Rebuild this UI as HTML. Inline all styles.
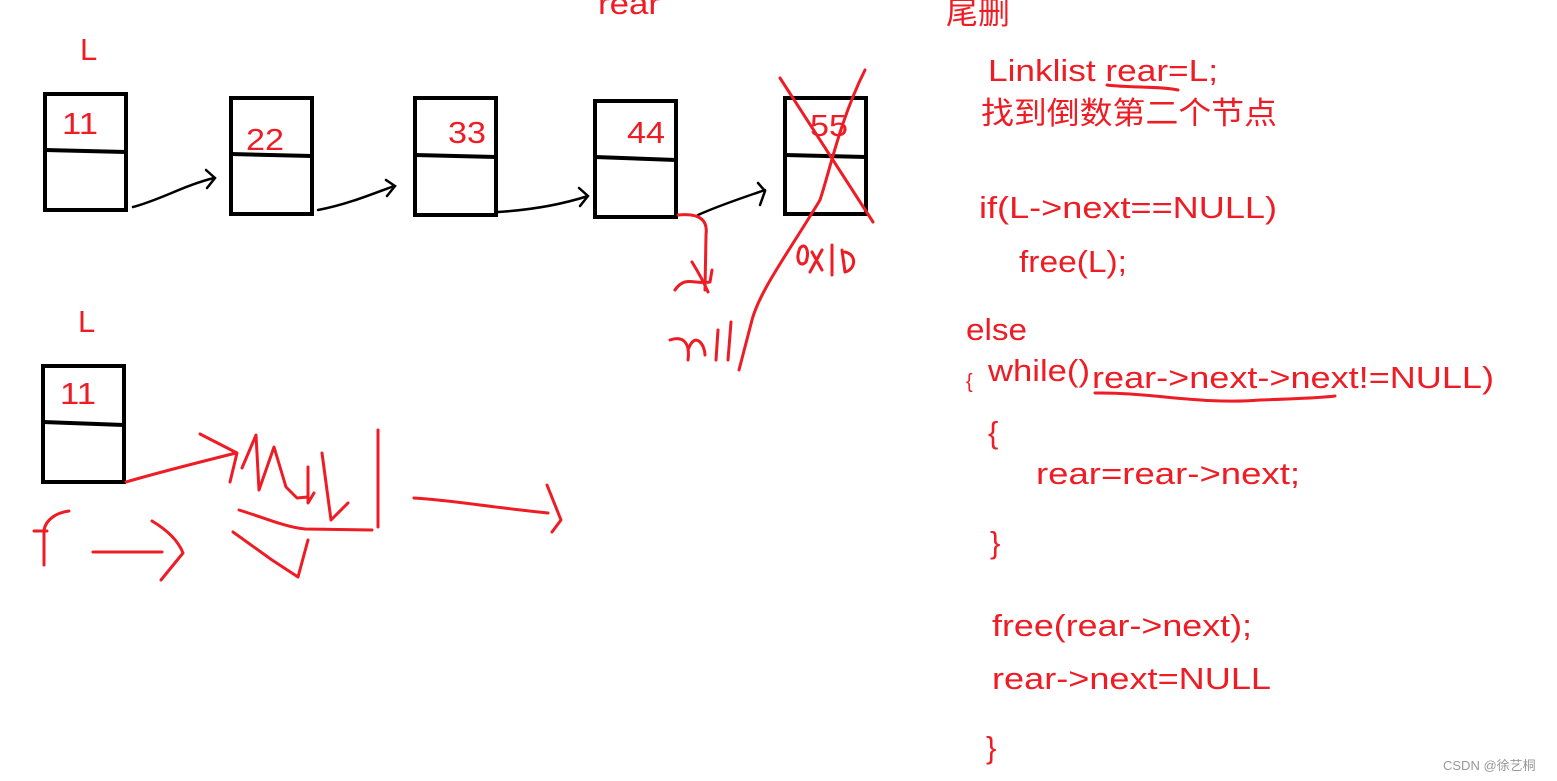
<!DOCTYPE html>
<html><head><meta charset="utf-8"><style>
html,body{margin:0;padding:0;background:#fff;width:1557px;height:781px;overflow:hidden}
svg{display:block}
text{font-family:"Liberation Sans","Noto Sans CJK SC",sans-serif;fill:#ee1c24}
</style></head><body>
<svg width="1557" height="781" viewBox="0 0 1557 781" xmlns="http://www.w3.org/2000/svg">
<g fill="none" stroke="#000" stroke-width="4">
<rect x="45" y="94" width="81" height="116"/><path d="M45 150 L126 152"/>
<rect x="231" y="98" width="81" height="116"/><path d="M231 154 L312 156"/>
<rect x="415" y="98" width="81" height="117"/><path d="M415 155 L496 157"/>
<rect x="595" y="101" width="81" height="116"/><path d="M595 157 L676 160"/>
<rect x="785" y="98" width="81" height="116"/><path d="M785 155 L866 157"/>
<rect x="43" y="366" width="81" height="116"/><path d="M43 422 L124 425"/>
</g>
<g fill="none" stroke="#000" stroke-width="2.5" stroke-linecap="round">
<path d="M133 207 C160 200 185 185 214 178 M206 170 L215 178 L207 188"/>
<path d="M318 210 C345 205 370 195 394 186 M386 180 L395 186 L387 196"/>
<path d="M498 212 C530 210 560 205 588 196 M579 188 L588 196 L580 206"/>
<path d="M698 215 C720 205 745 197 765 190 M758 183 L765 191 L760 205"/>
</g>
<g fill="none" stroke="#ee1c24" stroke-width="3" stroke-linecap="round" stroke-linejoin="round">
<path d="M780 78 L873 222"/>
<path d="M865 70 C840 120 830 170 820 200 C790 250 760 290 752 320 L739 370"/>
<path d="M678 215 C700 213 708 220 706 235 L705 290 M692 262 C700 275 705 285 708 292 M675 290 C685 275 695 285 710 282 L712 270"/>
<path d="M670 340 C685 335 690 345 688 360 M688 350 C695 330 705 345 705 355 M718 330 L716 360 M731 322 L728 360"/>
<path d="M800 248 C795 260 800 268 806 262 C810 250 805 242 800 248 M812 252 L822 270 M822 250 L810 272 M832 245 L832 275 M842 250 L845 272 C855 270 858 255 845 252"/>
<path d="M126 482 C160 472 200 462 236 453 M200 434 L237 453 L230 482"/>
<path d="M242 468 L256 435 L259 490 L274 447 L286 487 L297 498 L308 497 L308 467 L308 503 L314 493"/>
<path d="M322 453 L331 520 L348 503"/>
<path d="M239 510 C265 518 285 527 305 529 L372 530"/>
<path d="M378 430 L378 527"/>
<path d="M233 532 L272 560 L298 577 L308 540"/>
<path d="M414 498 C450 500 489 507 548 513 M547 485 L561 520 L552 532"/>
<path d="M44 533 L44 565 M34 531 L47 531 M44 530 C46 520 55 513 69 511"/>
<path d="M93 552 L162 552 M152 521 C167 530 178 540 183 553 L161 580"/>
<path d="M1107 85 C1130 88 1160 86 1178 90"/>
<path d="M1095 393 C1150 392 1200 405 1260 400 C1290 399 1320 398 1335 396"/>
</g>
<g font-size="31">
<text x="598" y="14" textLength="62" lengthAdjust="spacingAndGlyphs">rear</text>
<text x="946" y="24" textLength="64" lengthAdjust="spacingAndGlyphs">尾删</text>
<text x="80" y="60">L</text>
<text x="78" y="332">L</text>
<text x="62" y="134" textLength="36" lengthAdjust="spacingAndGlyphs">11</text>
<text x="246" y="150" textLength="38" lengthAdjust="spacingAndGlyphs">22</text>
<text x="448" y="143" textLength="38" lengthAdjust="spacingAndGlyphs">33</text>
<text x="627" y="143" textLength="38" lengthAdjust="spacingAndGlyphs">44</text>
<text x="810" y="136" textLength="38" lengthAdjust="spacingAndGlyphs">55</text>
<text x="60" y="404" textLength="36" lengthAdjust="spacingAndGlyphs">11</text>
<text x="988" y="81" textLength="230" lengthAdjust="spacingAndGlyphs">Linklist rear=L;</text>
<text x="981" y="124" textLength="296" lengthAdjust="spacingAndGlyphs">找到倒数第二个节点</text>
<text x="979" y="218" textLength="298" lengthAdjust="spacingAndGlyphs">if(L-&gt;next==NULL)</text>
<text x="1019" y="272" textLength="108" lengthAdjust="spacingAndGlyphs">free(L);</text>
<text x="966" y="340" textLength="61" lengthAdjust="spacingAndGlyphs">else</text>
<text x="966" y="388" font-size="20">{</text>
<text x="988" y="381" textLength="102" lengthAdjust="spacingAndGlyphs">while()</text>
<text x="1092" y="388" textLength="402" lengthAdjust="spacingAndGlyphs">rear-&gt;next-&gt;next!=NULL)</text>
<text x="988" y="443">{</text>
<text x="1036" y="484" textLength="264" lengthAdjust="spacingAndGlyphs">rear=rear-&gt;next;</text>
<text x="990" y="553">}</text>
<text x="992" y="636" textLength="260" lengthAdjust="spacingAndGlyphs">free(rear-&gt;next);</text>
<text x="992" y="689" textLength="279" lengthAdjust="spacingAndGlyphs">rear-&gt;next=NULL</text>
<text x="986" y="758">}</text>
</g>
<text x="1443" y="770" font-size="13" style="fill:#999">CSDN @徐艺桐</text>
</svg>
</body></html>
